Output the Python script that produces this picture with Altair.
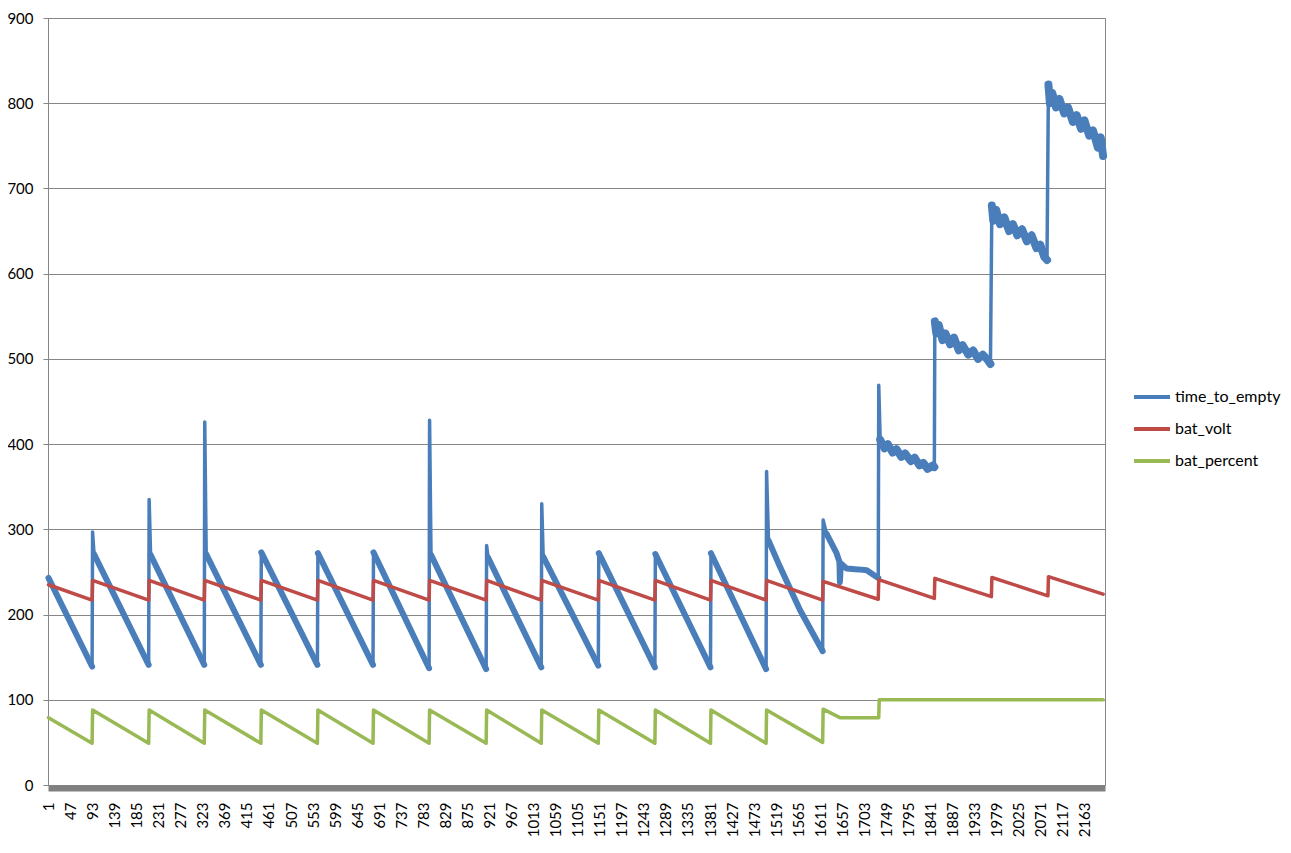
import bisect
import altair as alt
import pandas as pd

series_names = ["time_to_empty", "bat_volt", "bat_percent"]
series_colors = ["#4A7EBB", "#BE4B48", "#98B954"]

x_ticks = [1, 47, 93, 139, 185, 231, 277, 323, 369, 415, 461, 507, 553, 599, 645,
           691, 737, 783, 829, 875, 921, 967, 1013, 1059, 1105, 1151, 1197, 1243,
           1289, 1335, 1381, 1427, 1473, 1519, 1565, 1611, 1657, 1703, 1749, 1795,
           1841, 1887, 1933, 1979, 2025, 2071, 2117, 2163]
y_ticks = [0, 100, 200, 300, 400, 500, 600, 700, 800, 900]

# charge resets (category index where a new cycle starts)
reset_x = [93, 211, 327, 445, 563, 679, 796, 915, 1030, 1149, 1267, 1383, 1499,
           1617, 1733, 1850, 1969, 2087]
# isolated spikes of time_to_empty (tops that are not part of the band)
spike_x = [93, 211, 327, 796, 915, 1030, 1499, 1617, 1733]

tte_x = [1, 92,
         93, 96, 210,
         211, 214, 326,
         327, 330, 444,
         445, 562,
         563, 678,
         679, 795,
         796, 799, 914,
         915, 918, 1029,
         1030, 1033, 1148,
         1149, 1266,
         1267, 1382,
         1383, 1498,
         1499, 1503, 1527, 1569, 1616,
         1617, 1624, 1645, 1651, 1652, 1654, 1666, 1690, 1708, 1721, 1732,
         1733, 1736, 1745, 1752, 1762, 1770, 1780, 1788, 1800, 1808, 1818, 1826, 1835, 1846, 1849,
         1850, 1853, 1858, 1866, 1872, 1882, 1890, 1900, 1908, 1920, 1930, 1940, 1950, 1960, 1966,
         1969, 1972, 1978, 1986, 1995, 2005, 2013, 2022, 2032, 2042, 2052, 2062, 2070, 2078, 2084,
         2087, 2090, 2095, 2103, 2110, 2120, 2128, 2138, 2146, 2155, 2162, 2172, 2180, 2190, 2196, 2201]
tte_y = [243, 139,
         297, 271, 141,
         335, 270, 141,
         426, 271, 141,
         273, 141,
         272, 141,
         273, 137,
         428, 270, 136,
         281, 267, 138,
         330, 268, 140,
         272, 138,
         271, 138,
         272, 136,
         368, 287, 256, 205, 157,
         311, 295, 272, 262, 238, 260, 254, 253, 252, 247, 243,
         469, 405, 395, 400, 390, 394, 385, 389, 380, 384, 375, 378, 371, 375, 373,
         544, 530, 540, 522, 530, 517, 525, 510, 516, 505, 510, 500, 505, 499, 494,
         680, 662, 675, 658, 666, 650, 658, 645, 652, 638, 645, 630, 634, 620, 616,
         822, 800, 812, 795, 805, 788, 795, 778, 786, 770, 780, 762, 768, 748, 760, 738]

volt_x = [1, 92, 93, 210, 211, 326, 327, 444, 445, 562, 563, 678, 679, 795, 796, 914,
          915, 1029, 1030, 1148, 1149, 1266, 1267, 1382, 1383, 1498, 1499, 1616,
          1617, 1732, 1733, 1849, 1850, 1968, 1969, 2086, 2087, 2201]
volt_y = [235, 217, 240, 217, 240, 217, 240, 217, 240, 217, 240, 217, 240, 217, 240, 217,
          240, 217, 240, 217, 240, 217, 240, 217, 240, 217, 240, 217,
          239, 218, 241, 219, 242.5, 221, 243.5, 222, 244.5, 224]

pct_x = [1, 92, 93, 210, 211, 326, 327, 444, 445, 562, 563, 678, 679, 795, 796, 914,
         915, 1029, 1030, 1148, 1149, 1266, 1267, 1382, 1383, 1498, 1499, 1616,
         1617, 1652, 1733, 1734, 2201]
pct_y = [79, 49, 88, 49, 88, 49, 88, 49, 88, 49, 88, 49, 88, 49, 88, 49,
         88, 49, 88, 49, 88, 49, 88, 49, 88, 49, 88, 50,
         89, 79, 79, 100, 100]

assert len(tte_x) == len(tte_y)
assert len(volt_x) == len(volt_y)
assert len(pct_x) == len(pct_y)

tte = pd.DataFrame({"x": tte_x, "y": tte_y, "series": series_names[0]})
volt = pd.DataFrame({"x": volt_x, "y": volt_y, "series": series_names[1]})
pct = pd.DataFrame({"x": pct_x, "y": pct_y, "series": series_names[2]})

# thicker band for the noisy descending parts of time_to_empty
band = tte[~tte["x"].isin(spike_x)].copy()
band["cycle"] = [bisect.bisect_right(reset_x, v) for v in band["x"]]
band["w"] = [8 if c >= 15 else 6 for c in band["cycle"]]

FONT = "Lato"
GRID = "#868686"

color_scale = alt.Scale(domain=series_names, range=series_colors)
legend = alt.Legend(title=None, orient="none", legendX=1084, legendY=359)

x_enc = alt.X("x:Q",
              scale=alt.Scale(domain=[0, 2205], nice=False, zero=False),
              axis=alt.Axis(values=x_ticks, format="d", labelAngle=-90, grid=False,
                            ticks=False, tickSize=0, domainWidth=6, domainColor="#808080",
                            offset=3, labelPadding=14, labelFontSize=15, labelFont=FONT,
                            labelColor="#000000", title=None, labelOverlap=False,
                            labelFlush=False, labelBound=False))
y_enc = alt.Y("y:Q",
              scale=alt.Scale(domain=[0, 900], nice=False, zero=True),
              axis=alt.Axis(values=y_ticks, grid=True, gridColor=GRID, gridWidth=1,
                            tickColor=GRID, tickSize=5, domainColor=GRID,
                            labelPadding=10, labelFontSize=15, labelFont=FONT,
                            labelColor="#000000", title=None))

line_kw = dict(strokeCap="round", strokeJoin="round")

blue = alt.Chart(tte).mark_line(strokeWidth=3.5, **line_kw).encode(
    x=x_enc, y=y_enc,
    color=alt.Color("series:N", scale=color_scale, legend=legend))

blue_band = alt.Chart(band).mark_line(**line_kw).encode(
    x=x_enc, y=y_enc, detail="cycle:N",
    color=alt.value(series_colors[0]),
    strokeWidth=alt.StrokeWidth("w:Q", scale=None))

red = alt.Chart(volt).mark_line(strokeWidth=3.5, **line_kw).encode(
    x=x_enc, y=y_enc,
    color=alt.Color("series:N", scale=color_scale, legend=legend))

green = alt.Chart(pct).mark_line(strokeWidth=3.5, **line_kw).encode(
    x=x_enc, y=y_enc,
    color=alt.Color("series:N", scale=color_scale, legend=legend))

chart = alt.layer(blue, blue_band, red, green).properties(
    width=1057, height=767,
    background="white",
    autosize=alt.AutoSizeParams(type="none"),
    padding={"left": 40, "top": 10, "right": 178, "bottom": 60},
).configure_view(
    stroke=GRID, strokeWidth=1
).configure_legend(
    symbolType="stroke", symbolStrokeWidth=4, symbolSize=1296,
    labelFontSize=16, labelFont=FONT, labelColor="#000000",
    labelOffset=3, rowPadding=4, padding=0, labelLimit=300
)

chart.save("out.html", embed_options={"renderer": "svg", "actions": False})
